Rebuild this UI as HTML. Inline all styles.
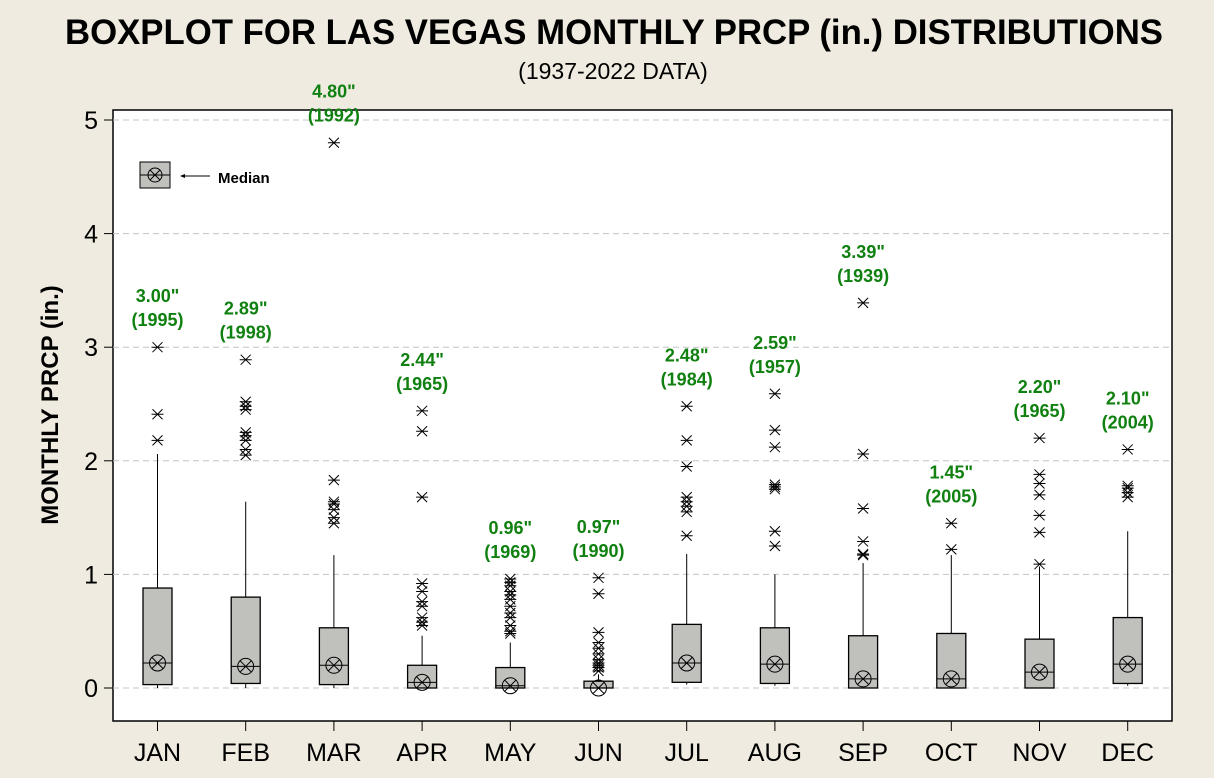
<!DOCTYPE html>
<html><head><meta charset="utf-8"><style>
body{margin:0;background:#efebe0;}
svg{display:block;font-family:"Liberation Sans",sans-serif;}
</style></head><body>
<svg id="chart" width="1214" height="778">
<rect width="1214" height="778" fill="#efebe0"/>
<text x="614" y="44" text-anchor="middle" font-size="35" font-weight="bold" textLength="1098" lengthAdjust="spacingAndGlyphs">BOXPLOT FOR LAS VEGAS MONTHLY PRCP (in.) DISTRIBUTIONS</text>
<text x="613" y="79" text-anchor="middle" font-size="23">(1937-2022 DATA)</text>
<rect x="113" y="110" width="1059" height="611" fill="#fff" stroke="#000" stroke-width="1.5"/>
<text transform="translate(58,405) rotate(-90)" text-anchor="middle" font-size="24" font-weight="bold">MONTHLY PRCP (in.)</text>
<g id="grid"></g><g id="marks"></g><g id="labels"></g>
<g>
<rect x="140" y="162" width="30" height="26" fill="#c0c0bc" stroke="#000"/>
<line x1="140" y1="175" x2="170" y2="175" stroke="#000"/>
<circle cx="155" cy="175" r="7" fill="none" stroke="#000"/>
<line x1="150" y1="170" x2="160" y2="180" stroke="#000"/><line x1="160" y1="170" x2="150" y2="180" stroke="#000"/>
<line x1="181" y1="176" x2="210" y2="176" stroke="#000"/><path d="M180 176 l5 -2 v4z" fill="#000"/>
<text x="218" y="183" font-size="15" font-weight="bold">Median</text>
</g>
</svg>
<script>
const months=["JAN","FEB","MAR","APR","MAY","JUN","JUL","AUG","SEP","OCT","NOV","DEC"];
const q1=[0.03,0.04,0.03,0,0,0,0.05,0.04,0,0,0,0.04];
const med=[0.22,0.19,0.20,0.05,0.02,0.00,0.22,0.21,0.08,0.08,0.14,0.21];
const q3=[0.88,0.80,0.53,0.20,0.18,0.06,0.56,0.53,0.46,0.48,0.43,0.62];
const whiskLo=[0,0,0,0,0,0,0.03,0.02,0,0,0,0.02];
const whiskHi=[2.06,1.64,1.17,0.46,0.40,0.12,1.18,1.00,1.10,1.17,1.07,1.38];
const outliers=[[2.18,2.41,3.00],[2.05,2.10,2.18,2.22,2.25,2.45,2.48,2.52,2.89],[1.45,1.50,1.57,1.62,1.64,1.83,4.80],[0.55,0.58,0.62,0.72,0.76,0.85,0.92,1.68,2.26,2.44],[0.48,0.50,0.55,0.62,0.66,0.72,0.78,0.82,0.85,0.90,0.93,0.96],[0.15,0.18,0.20,0.22,0.25,0.30,0.35,0.40,0.49,0.83,0.97],[1.34,1.55,1.60,1.64,1.68,1.95,2.18,2.48],[1.25,1.38,1.75,1.77,1.79,2.12,2.27,2.59],[1.17,1.18,1.29,1.58,2.06,3.39],[1.22,1.45],[1.09,1.37,1.52,1.70,1.80,1.88,2.20],[1.68,1.72,1.76,1.78,2.10]];
const maxLabels=['3.00"','2.89"','4.80"','2.44"','0.96"','0.97"','2.48"','2.59"','3.39"','1.45"','2.20"','2.10"'];
const maxYears=["(1995)","(1998)","(1992)","(1965)","(1969)","(1990)","(1984)","(1957)","(1939)","(2005)","(1965)","(2004)"];
const maxVals=[3.00,2.89,4.80,2.44,0.96,0.97,2.48,2.59,3.39,1.45,2.20,2.10];
const yTicks=[0,1,2,3,4,5];

const NS="http://www.w3.org/2000/svg";
const y=v=>688-v*113.6;
const x=i=>157.5+i*88.2;
function mk(tag,attrs,parent){const e=document.createElementNS(NS,tag);for(const k in attrs)e.setAttribute(k,attrs[k]);parent.appendChild(e);return e;}
const grid=document.getElementById("grid"),marks=document.getElementById("marks"),labels=document.getElementById("labels");
yTicks.forEach(t=>{
  const g=mk("line",{x1:113,x2:1172,y1:y(t),y2:y(t),stroke:"#c4c4c4","stroke-dasharray":"6,4"},grid);
  
  
  mk("line",{x1:104,x2:113,y1:y(t),y2:y(t),stroke:"#000"},grid);
  const tx=mk("text",{x:98,y:y(t)+9,"text-anchor":"end","font-size":"25"},grid);tx.textContent=t;
  
  
});
months.forEach((m,i)=>{
  const cx=x(i);
  mk("line",{x1:cx,x2:cx,y1:721,y2:731,stroke:"#000"},grid);
  const t=mk("text",{x:cx,y:761,"text-anchor":"middle","font-size":"25"},grid);t.textContent=m;
  
  
  const g=mk("g",{},marks);
  
  
  mk("line",{x1:cx,x2:cx,y1:y(whiskHi[i]),y2:y(q3[i]),stroke:"#000"},g);
  mk("line",{x1:cx,x2:cx,y1:y(q1[i]),y2:y(whiskLo[i]),stroke:"#000"},g);
  mk("rect",{x:cx-14.5,y:y(q3[i]),width:29,height:Math.max(1,y(q1[i])-y(q3[i])),fill:"#c0c0bc",stroke:"#000","stroke-width":"1.3"},g);
  mk("line",{x1:cx-14.5,x2:cx+14.5,y1:y(med[i]),y2:y(med[i]),stroke:"#000"},g);
  const cy=y(med[i]);
  mk("circle",{cx:cx,cy:cy,r:8,fill:"none",stroke:"#000"},g);
  mk("line",{x1:cx-5.6,y1:cy-5.6,x2:cx+5.6,y2:cy+5.6,stroke:"#000"},g);
  mk("line",{x1:cx+5.6,y1:cy-5.6,x2:cx-5.6,y2:cy+5.6,stroke:"#000"},g);
  outliers[i].forEach(v=>{
    const o=mk("path",{d:`M${cx-5} ${y(v)-5}L${cx+5} ${y(v)+5}M${cx+5} ${y(v)-5}L${cx-5} ${y(v)+5}M${cx-6} ${y(v)}H${cx+6}`,stroke:"#000","stroke-width":"1"},g);
    
    
  });
  const py=y(maxVals[i]);
  const a=mk("text",{x:cx,y:py-45,"text-anchor":"middle","font-size":"18","font-weight":"bold",fill:"#108010"},labels);a.textContent=maxLabels[i];
  
  
  const b=mk("text",{x:cx,y:py-21,"text-anchor":"middle","font-size":"18","font-weight":"bold",fill:"#108010"},labels);b.textContent=maxYears[i];
  
  
});
</script>
</body></html>
